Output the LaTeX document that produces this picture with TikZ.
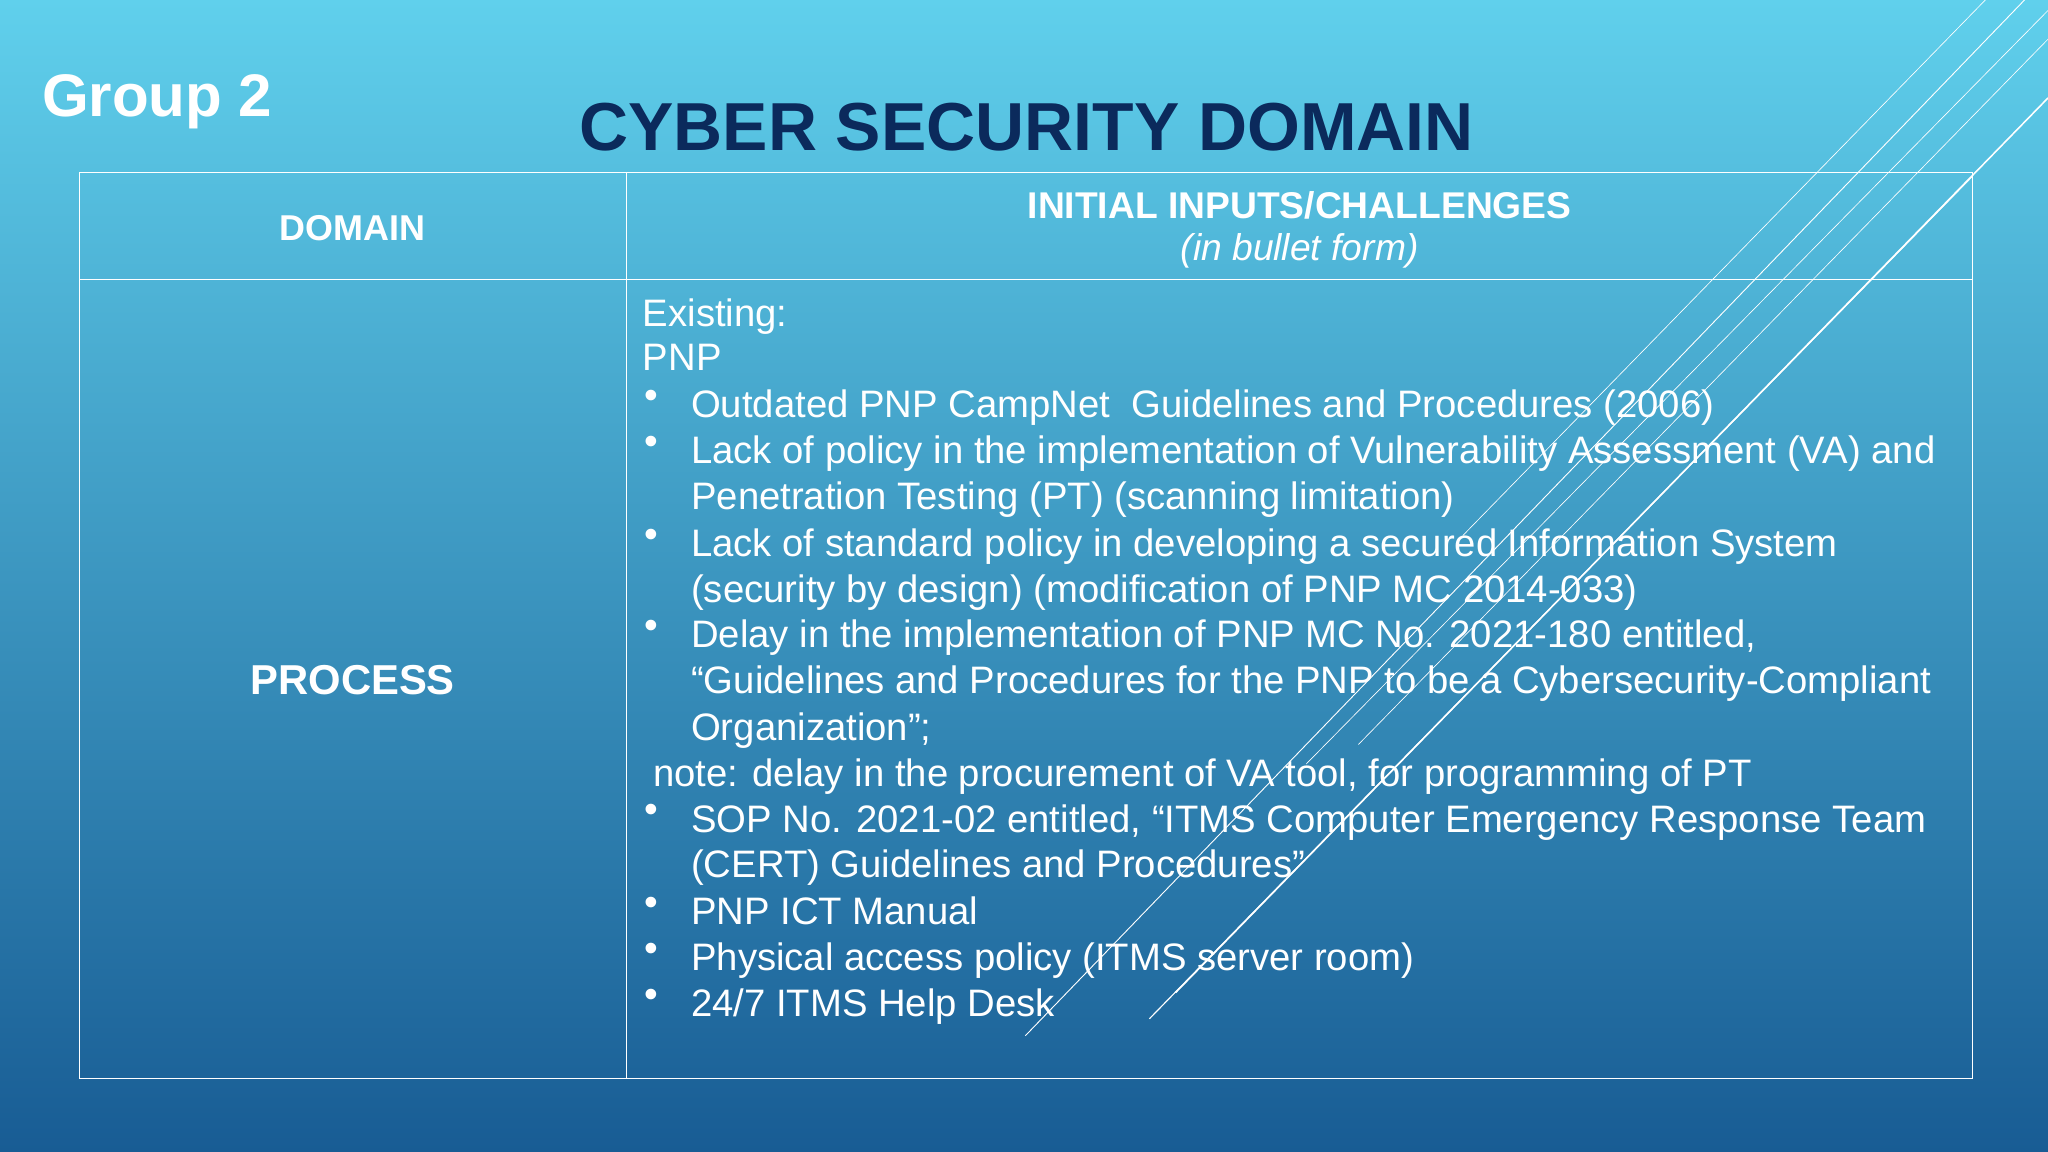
\documentclass[tikz,border=0pt]{standalone}
\usepackage{fontspec}
\setmainfont{Liberation Sans}
\definecolor{navy}{HTML}{0B2A5C}
\begin{document}
\begin{tikzpicture}[x=1pt,y=-1pt,
  txt/.style={anchor=base west,text=white,font=\fontsize{29.3}{30}\selectfont,inner sep=0},
  bul/.style={anchor=center,text=white,font=\fontsize{30}{30}\selectfont,inner sep=0},
  ln/.style={draw=white,line width=0.8pt}]
\useasboundingbox (0,0) rectangle (1568,882);
\shade[top color={rgb,255:red,96;green,208;blue,236}, bottom color={rgb,255:red,24;green,92;blue,148}] (0,0) rectangle (1568,882);
% diagonal lines
\draw[white,line width=0.7pt] (1550,0) -- (785,793);
\draw[white,line width=0.5pt] (1568,8) -- (1000,585);
\draw[white,line width=0.5pt] (1568,30) -- (1040,570);
\draw[white,line width=1.2pt] (1568,75) -- (900,760);
\draw[white,line width=0.5pt] (1520,0) -- (1120,410);
\draw[white,line width=0.9pt] (1510,135) -- (880,780);
% titles
\node[anchor=west,text=white,font=\bfseries\fontsize{46}{48}\selectfont,inner sep=0] (grp) at (32,78) {Group 2};
\node[text=navy,font=\bfseries\fontsize{52}{56}\selectfont,inner sep=0] (ttl) at (786,97) {CYBER SECURITY DOMAIN};
% table
\draw[ln] (61,132) rectangle (1510,826);
\draw[ln] (480,132) -- (480,826);
\draw[ln] (61,214) -- (1510,214);
\node[text=white,font=\bfseries\fontsize{27.5}{30}\selectfont] (h1) at (270,175) {DOMAIN};
\node[text=white,font=\bfseries\fontsize{28.5}{30}\selectfont] (h2) at (995,157) {INITIAL INPUTS/CHALLENGES};
\node[text=white,font=\itshape\fontsize{28.5}{30}\selectfont] (h3) at (995,192) {(in bullet form)};
\node[text=white,font=\bfseries\fontsize{32}{34}\selectfont] (p) at (270,521) {PROCESS};
% body
\node[txt] (l1) at (492,250) {Existing:};
\node[txt] (l2) at (492,284) {PNP};
\foreach \y/\t/\b in {310/{Outdated PNP CampNet\ \ Guidelines and Procedures (2006)}/1,
 345/{Lack of policy in the implementation of Vulnerability Assessment (VA) and}/1,
 380/{Penetration Testing (PT) (scanning limitation)}/0,
 416/{Lack of standard policy in developing a secured Information System}/1,
 451/{(security by design) (modification of PNP MC 2014-033)}/0,
 486/{Delay in the implementation of PNP MC No. 2021-180 entitled,}/1,
 521/{“Guidelines and Procedures for the PNP to be a Cybersecurity-Compliant}/0,
 557/{Organization”;}/0,
 627/{SOP No. 2021-02 entitled, “ITMS Computer Emergency Response Team}/1,
 662/{(CERT) Guidelines and Procedures”}/0,
 698/{PNP ICT Manual}/1,
 733/{Physical access policy (ITMS server room)}/1,
 768/{24/7 ITMS Help Desk}/1}{
  \node[txt] at (529,\y+10) {\t};
  \ifnum\b=1 \node[bul] at (499,\y-4) {•};\fi
}
\node[txt] (nt) at (500,602) {note: delay in the procurement of VA tool, for programming of PT};
\end{tikzpicture}
\end{document}
